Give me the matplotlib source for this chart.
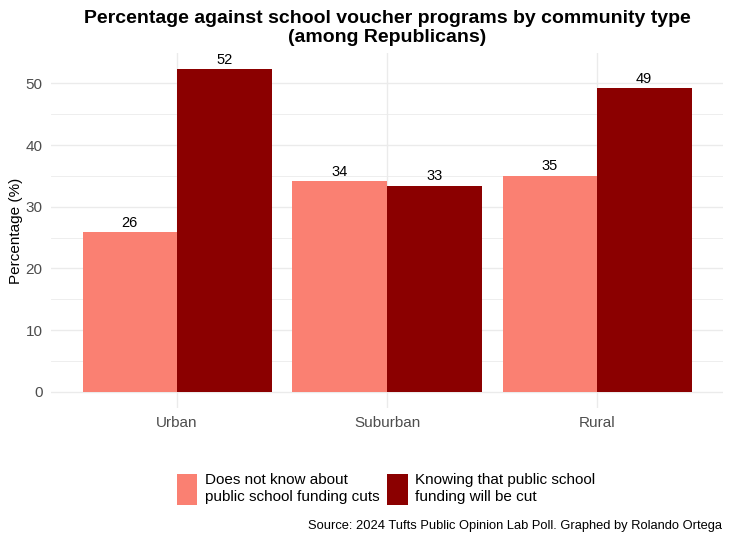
import matplotlib

matplotlib.use("Agg")
import matplotlib.pyplot as plt
import numpy as np
from matplotlib.patches import Patch

plt.rcParams["font.family"] = ["Liberation Sans", "DejaVu Sans"]

# data
communities = ["Urban", "Suburban", "Rural"]
unaware = [25.9, 34.1, 35.0]
aware = [52.3, 33.4, 49.2]
series_labels = ["Does not know about\npublic school funding cuts",
                 "Knowing that public school\nfunding will be cut"]
colors = ["#FA8072", "#8B0000"]
y_ticks = [0, 10, 20, 30, 40, 50]


def main():
    fig = plt.figure(figsize=(7.3, 5.42), dpi=100)
    ax = fig.add_axes([51 / 730, 1 - 408 / 542, 672 / 730, 355 / 542])

    x = np.arange(1, len(communities) + 1)
    w = 0.45
    for i, (vals, col) in enumerate(zip([unaware, aware], colors)):
        xs = x + (i - 0.5) * w
        ax.bar(xs, vals, width=w, color=col, zorder=2)
        for xi, v in zip(xs, vals):
            ax.text(xi, v + 0.4, f"{v:.0f}", ha="center", va="bottom",
                    fontsize=10.5, color="black")

    ymax = max(max(unaware), max(aware))
    ax.set_ylim(-0.05 * ymax, ymax * 1.05)
    ax.set_xlim(0.4, 3.6)
    ax.set_xticks(x)
    ax.set_xticklabels(communities)
    ax.set_yticks(y_ticks)
    ax.set_yticks([5, 15, 25, 35, 45], minor=True)
    ax.tick_params(axis="both", length=0, labelsize=11, colors="#4D4D4D",
                   pad=6)
    ax.tick_params(axis="y", which="minor", length=0)
    ax.grid(True, which="major", color="#EBEBEB", lw=1.0, zorder=0)
    ax.grid(True, which="minor", axis="y", color="#EBEBEB", lw=0.6, zorder=0)
    for s in ax.spines.values():
        s.set_visible(False)
    ax.set_ylabel("Percentage (%)", fontsize=11, color="black", labelpad=2)

    ax.set_title("Percentage against school voucher programs by community type\n"
                 "(among Republicans)", fontsize=14, fontweight="bold",
                 linespacing=1.15, pad=8)

    handles = [Patch(facecolor=c, edgecolor="none") for c in colors]
    fig.legend(handles, series_labels, loc="center", ncol=2,
               bbox_to_anchor=(386 / 730, 1 - 489 / 542), frameon=False,
               fontsize=11, handlelength=1.35, handleheight=2.7,
               handletextpad=0.5, columnspacing=0.5, labelspacing=0.2)

    fig.text(722 / 730, 1 - 526 / 542,
             "Source: 2024 Tufts Public Opinion Lab Poll. Graphed by Rolando Ortega",
             ha="right", va="center", fontsize=9.3)

    fig.savefig("out.png", dpi=100)


if __name__ == "__main__":
    main()
